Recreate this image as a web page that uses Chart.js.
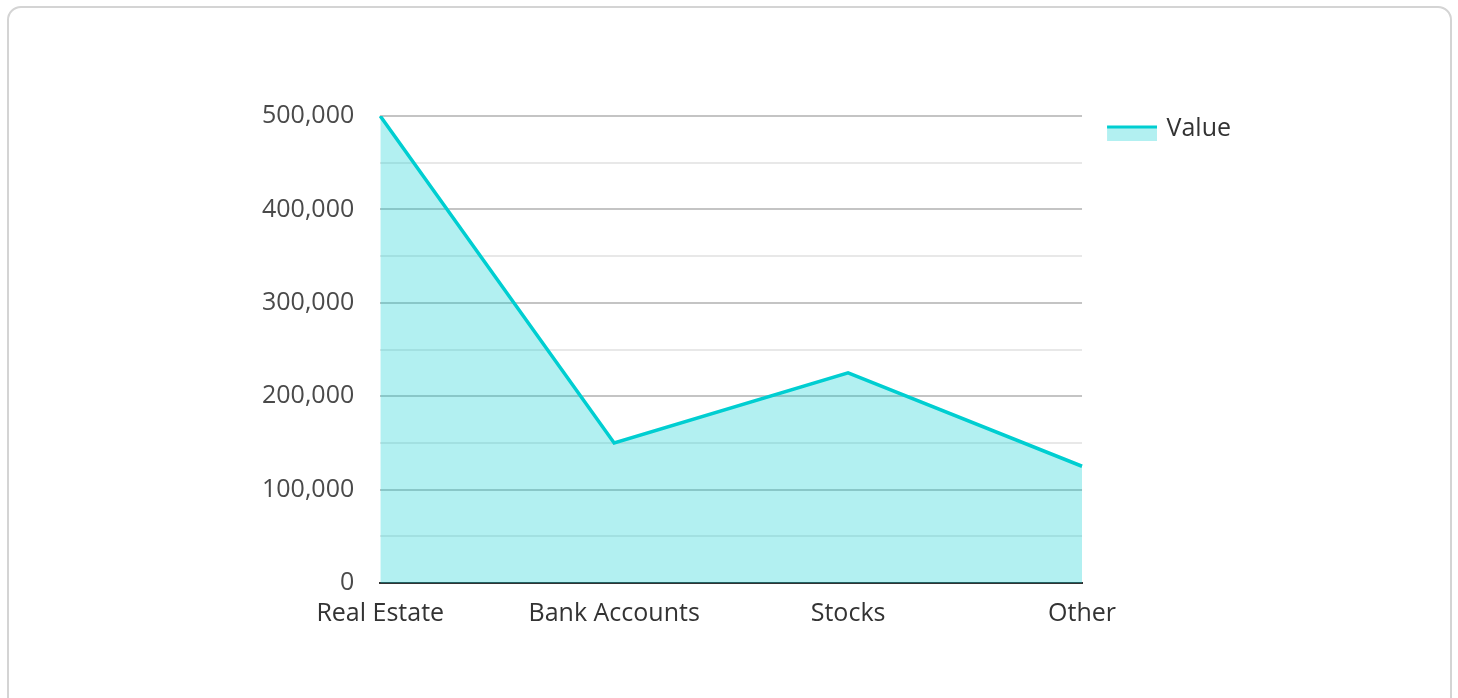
<!DOCTYPE html>
<html>
<head>
<meta charset="utf-8">
<script src="https://cdn.jsdelivr.net/npm/chart.js@4/dist/chart.umd.min.js"></script>
<style>
  body { margin: 0; background: #fff; overflow: hidden; }
  .card {
    position: absolute; left: 7px; top: 6px; width: 1445px; height: 740px;
    box-sizing: border-box; border: 2px solid #d4d4d4; border-radius: 14px;
  }
  #chart { position: absolute; left: 0; top: 0; }
</style>
</head>
<body>
<div class="card"></div>
<canvas id="chart" width="1458" height="698"></canvas>
<script>
const categories = ['Real Estate', 'Bank Accounts', 'Stocks', 'Other'];
const values = [500000, 150000, 225000, 125000];
const seriesName = 'Value';
const yMax = 500000;
const yStep = 50000;
const labelStep = 100000;

const lineColor = '#00CED1';
const fillColor = 'rgba(0, 206, 209, 0.3)';
const fontSize = 25;

// legend swatch: line on top, fill below (drawn by the legend as a point style image)
function makeSwatch() {
  const c = document.createElement('canvas');
  c.width = 78;
  c.height = 24;
  const g = c.getContext('2d');
  g.fillStyle = fillColor;
  g.fillRect(28, 12, 50, 12);
  g.fillStyle = lineColor;
  g.fillRect(28, 9, 50, 3);
  return c;
}

const where = document.getElementById('chart');
const chart = new Chart(where, {
  type: 'line',
  data: {
    labels: categories,
    datasets: [{
      label: seriesName,
      data: values,
      borderColor: lineColor,
      backgroundColor: fillColor,
      borderWidth: 3.5,
      fill: 'origin',
      tension: 0,
      pointRadius: 0,
      pointHoverRadius: 0
    }]
  },
  options: {
    responsive: false,
    animation: false,
    layout: { padding: { left: 236, right: 217, top: 116, bottom: 61 } },
    plugins: {
      tooltip: { enabled: false },
      legend: {
        position: 'right',
        align: 'start',
        labels: {
          usePointStyle: true,
          pointStyle: makeSwatch(),
          pointStyleWidth: 72,
          padding: 0,
          color: '#333',
          font: { family: 'Open Sans', size: fontSize }
        }
      }
    },
    scales: {
      x: {
        offset: false,
        grid: { display: false },
        border: { color: '#333', width: 2 },
        ticks: {
          color: '#333',
          padding: 8,
          maxRotation: 0,
          font: { family: 'Open Sans', size: fontSize }
        }
      },
      y: {
        min: 0,
        max: yMax,
        border: { display: false },
        grid: {
          drawTicks: false,
          color: (ctx) => ctx.tick && ctx.tick.value % labelStep === 0 ? '#c4c4c4' : '#e8e8e8',
          lineWidth: 2
        },
        ticks: {
          stepSize: yStep,
          padding: 26,
          color: '#4a4a4a',
          font: { family: 'Open Sans', size: fontSize },
          callback: (v) => v % labelStep === 0 ? v.toLocaleString('en-US') : ''
        }
      }
    }
  }
});
</script>
</body>
</html>
